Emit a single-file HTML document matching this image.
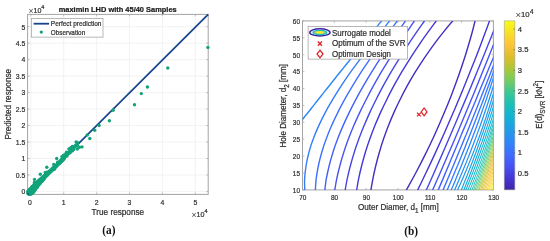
<!DOCTYPE html>
<html lang="en"><head><meta charset="utf-8"><title>Figure</title>
<style>html,body{margin:0;padding:0;background:#fff}body{width:550px;height:241px;overflow:hidden}svg{display:block}</style>
</head><body>
<svg width="550" height="241" viewBox="0 0 550 241" font-family="'Liberation Sans', Arial, sans-serif" fill="#262626">
<rect width="550" height="241" fill="#fff"/>
<g id="left">
<path d="M30.80 14.4V194.4M63.70 14.4V194.4M96.60 14.4V194.4M129.50 14.4V194.4M162.40 14.4V194.4M195.30 14.4V194.4M27.6 191.45H208.2M27.6 174.97H208.2M27.6 158.50H208.2M27.6 142.02H208.2M27.6 125.55H208.2M27.6 109.07H208.2M27.6 92.60H208.2M27.6 76.12H208.2M27.6 59.65H208.2M27.6 43.17H208.2M27.6 26.70H208.2" stroke="#eeeeee" stroke-width="0.7" fill="none"/>
<rect x="27.6" y="14.4" width="180.60" height="180.00" fill="none" stroke="#a4a4a4" stroke-width="1"/>
<path d="M30.80 194.4v-1.9M30.80 14.4v1.9M63.70 194.4v-1.9M63.70 14.4v1.9M96.60 194.4v-1.9M96.60 14.4v1.9M129.50 194.4v-1.9M129.50 14.4v1.9M162.40 194.4v-1.9M162.40 14.4v1.9M195.30 194.4v-1.9M195.30 14.4v1.9M27.6 191.45h1.9M208.2 191.45h-1.9M27.6 174.97h1.9M208.2 174.97h-1.9M27.6 158.50h1.9M208.2 158.50h-1.9M27.6 142.02h1.9M208.2 142.02h-1.9M27.6 125.55h1.9M208.2 125.55h-1.9M27.6 109.07h1.9M208.2 109.07h-1.9M27.6 92.60h1.9M208.2 92.60h-1.9M27.6 76.12h1.9M208.2 76.12h-1.9M27.6 59.65h1.9M208.2 59.65h-1.9M27.6 43.17h1.9M208.2 43.17h-1.9M27.6 26.70h1.9M208.2 26.70h-1.9" stroke="#a4a4a4" stroke-width="0.7" fill="none"/>
<path d="M27.6 194.4L208.2 14.4" stroke="#17448c" stroke-width="1.7" fill="none"/>
<g fill="#12a37a">
<circle cx="109.4" cy="120.7" r="1.7"/>
<circle cx="99.1" cy="125.5" r="1.7"/>
<circle cx="94.7" cy="130.3" r="1.7"/>
<circle cx="89.8" cy="138.5" r="1.7"/>
<circle cx="87.2" cy="135.0" r="1.7"/>
<circle cx="77.3" cy="142.4" r="1.7"/>
<circle cx="82.0" cy="146.9" r="1.7"/>
<circle cx="79.4" cy="147.2" r="1.7"/>
<circle cx="77.3" cy="149.0" r="1.7"/>
<circle cx="73.3" cy="147.2" r="1.7"/>
<circle cx="70.7" cy="147.8" r="1.7"/>
<circle cx="68.9" cy="149.0" r="1.7"/>
<circle cx="72.4" cy="150.7" r="1.7"/>
<circle cx="68.1" cy="152.5" r="1.7"/>
<circle cx="65.8" cy="153.7" r="1.7"/>
<circle cx="63.7" cy="155.4" r="1.7"/>
<circle cx="62.0" cy="156.5" r="1.7"/>
<circle cx="147.4" cy="87.0" r="1.7"/>
<circle cx="141.3" cy="93.6" r="1.7"/>
<circle cx="207.9" cy="47.4" r="1.7"/>
<circle cx="167.8" cy="68.0" r="1.7"/>
<circle cx="134.5" cy="104.7" r="1.7"/>
<circle cx="113.1" cy="110.3" r="1.7"/>
<circle cx="34.5" cy="179.4" r="1.7"/>
<circle cx="40.3" cy="174.2" r="1.7"/>
<circle cx="46.8" cy="167.2" r="1.7"/>
<circle cx="56.7" cy="158.5" r="1.7"/>
<circle cx="29.9" cy="194.0" r="1.7"/>
<circle cx="28.0" cy="192.5" r="1.7"/>
<circle cx="29.0" cy="194.0" r="1.7"/>
<circle cx="28.8" cy="194.0" r="1.7"/>
<circle cx="28.0" cy="193.6" r="1.7"/>
<circle cx="30.6" cy="194.0" r="1.7"/>
<circle cx="28.0" cy="191.4" r="1.7"/>
<circle cx="28.2" cy="191.7" r="1.7"/>
<circle cx="29.8" cy="193.8" r="1.7"/>
<circle cx="28.7" cy="192.4" r="1.7"/>
<circle cx="31.3" cy="194.0" r="1.7"/>
<circle cx="28.4" cy="190.4" r="1.7"/>
<circle cx="29.0" cy="191.4" r="1.7"/>
<circle cx="30.7" cy="192.8" r="1.7"/>
<circle cx="29.6" cy="191.6" r="1.7"/>
<circle cx="32.7" cy="192.9" r="1.7"/>
<circle cx="29.3" cy="189.7" r="1.7"/>
<circle cx="30.9" cy="192.1" r="1.7"/>
<circle cx="31.1" cy="192.4" r="1.7"/>
<circle cx="30.0" cy="191.1" r="1.7"/>
<circle cx="33.1" cy="192.4" r="1.7"/>
<circle cx="29.7" cy="189.1" r="1.7"/>
<circle cx="31.1" cy="190.2" r="1.7"/>
<circle cx="32.2" cy="191.3" r="1.7"/>
<circle cx="31.2" cy="189.9" r="1.7"/>
<circle cx="33.7" cy="191.7" r="1.7"/>
<circle cx="30.9" cy="188.1" r="1.7"/>
<circle cx="31.4" cy="188.4" r="1.7"/>
<circle cx="33.1" cy="190.3" r="1.7"/>
<circle cx="31.8" cy="189.3" r="1.7"/>
<circle cx="34.3" cy="190.9" r="1.7"/>
<circle cx="31.6" cy="187.2" r="1.7"/>
<circle cx="32.2" cy="187.6" r="1.7"/>
<circle cx="33.4" cy="189.9" r="1.7"/>
<circle cx="32.7" cy="188.3" r="1.7"/>
<circle cx="35.0" cy="190.0" r="1.7"/>
<circle cx="32.3" cy="186.5" r="1.7"/>
<circle cx="34.2" cy="189.1" r="1.7"/>
<circle cx="34.4" cy="188.6" r="1.7"/>
<circle cx="33.2" cy="187.8" r="1.7"/>
<circle cx="35.7" cy="189.0" r="1.7"/>
<circle cx="33.2" cy="185.9" r="1.7"/>
<circle cx="34.2" cy="187.6" r="1.7"/>
<circle cx="34.8" cy="188.0" r="1.7"/>
<circle cx="34.0" cy="186.9" r="1.7"/>
<circle cx="36.9" cy="187.5" r="1.7"/>
<circle cx="34.0" cy="184.8" r="1.7"/>
<circle cx="36.5" cy="187.8" r="1.7"/>
<circle cx="35.7" cy="187.0" r="1.7"/>
<circle cx="34.8" cy="186.0" r="1.7"/>
<circle cx="37.3" cy="186.9" r="1.7"/>
<circle cx="34.6" cy="184.3" r="1.7"/>
<circle cx="35.9" cy="185.3" r="1.7"/>
<circle cx="36.3" cy="186.2" r="1.7"/>
<circle cx="35.4" cy="185.2" r="1.7"/>
<circle cx="37.6" cy="186.2" r="1.7"/>
<circle cx="35.5" cy="183.4" r="1.7"/>
<circle cx="36.6" cy="184.5" r="1.7"/>
<circle cx="36.9" cy="185.4" r="1.7"/>
<circle cx="36.4" cy="184.2" r="1.7"/>
<circle cx="34.4" cy="182.4" r="1.7"/>
<circle cx="38.4" cy="185.3" r="1.7"/>
<circle cx="36.4" cy="182.6" r="1.7"/>
<circle cx="37.2" cy="183.1" r="1.7"/>
<circle cx="37.8" cy="184.5" r="1.7"/>
<circle cx="37.0" cy="183.5" r="1.7"/>
<circle cx="39.5" cy="184.1" r="1.7"/>
<circle cx="37.0" cy="182.0" r="1.7"/>
<circle cx="38.5" cy="183.5" r="1.7"/>
<circle cx="38.8" cy="183.3" r="1.7"/>
<circle cx="37.6" cy="183.0" r="1.7"/>
<circle cx="40.0" cy="183.5" r="1.7"/>
<circle cx="37.8" cy="181.4" r="1.7"/>
<circle cx="39.5" cy="182.7" r="1.7"/>
<circle cx="39.6" cy="182.5" r="1.7"/>
<circle cx="38.5" cy="182.1" r="1.7"/>
<circle cx="40.7" cy="182.7" r="1.7"/>
<circle cx="38.7" cy="180.5" r="1.7"/>
<circle cx="39.2" cy="180.7" r="1.7"/>
<circle cx="40.5" cy="181.6" r="1.7"/>
<circle cx="39.5" cy="181.2" r="1.7"/>
<circle cx="41.9" cy="181.5" r="1.7"/>
<circle cx="39.5" cy="179.8" r="1.7"/>
<circle cx="40.5" cy="180.7" r="1.7"/>
<circle cx="41.2" cy="180.8" r="1.7"/>
<circle cx="40.4" cy="180.3" r="1.7"/>
<circle cx="42.2" cy="180.9" r="1.7"/>
<circle cx="40.5" cy="179.0" r="1.7"/>
<circle cx="42.1" cy="180.6" r="1.7"/>
<circle cx="41.7" cy="180.2" r="1.7"/>
<circle cx="41.1" cy="179.6" r="1.7"/>
<circle cx="43.3" cy="179.5" r="1.7"/>
<circle cx="41.3" cy="178.2" r="1.7"/>
<circle cx="43.4" cy="179.7" r="1.7"/>
<circle cx="43.8" cy="179.0" r="1.7"/>
<circle cx="42.1" cy="177.6" r="1.7"/>
<circle cx="42.5" cy="177.9" r="1.7"/>
<circle cx="44.3" cy="178.5" r="1.7"/>
<circle cx="43.3" cy="176.4" r="1.7"/>
<circle cx="43.8" cy="177.2" r="1.7"/>
<circle cx="45.4" cy="177.1" r="1.7"/>
<circle cx="43.9" cy="176.2" r="1.7"/>
<circle cx="44.0" cy="176.2" r="1.7"/>
<circle cx="45.9" cy="176.5" r="1.7"/>
<circle cx="44.7" cy="175.4" r="1.7"/>
<circle cx="45.8" cy="175.7" r="1.7"/>
<circle cx="47.0" cy="175.4" r="1.7"/>
<circle cx="45.6" cy="174.7" r="1.7"/>
<circle cx="46.6" cy="175.1" r="1.7"/>
<circle cx="47.2" cy="175.0" r="1.7"/>
<circle cx="46.5" cy="173.9" r="1.7"/>
<circle cx="46.6" cy="174.0" r="1.7"/>
<circle cx="45.3" cy="172.5" r="1.7"/>
<circle cx="48.1" cy="174.2" r="1.7"/>
<circle cx="47.1" cy="173.3" r="1.7"/>
<circle cx="47.9" cy="172.9" r="1.7"/>
<circle cx="46.9" cy="172.1" r="1.7"/>
<circle cx="49.3" cy="173.1" r="1.7"/>
<circle cx="48.3" cy="172.2" r="1.7"/>
<circle cx="48.8" cy="173.0" r="1.7"/>
<circle cx="50.0" cy="172.5" r="1.7"/>
<circle cx="48.8" cy="171.7" r="1.7"/>
<circle cx="49.7" cy="172.5" r="1.7"/>
<circle cx="50.9" cy="171.6" r="1.7"/>
<circle cx="49.9" cy="170.8" r="1.7"/>
<circle cx="50.0" cy="171.0" r="1.7"/>
<circle cx="51.5" cy="171.0" r="1.7"/>
<circle cx="50.8" cy="170.0" r="1.7"/>
<circle cx="51.4" cy="170.4" r="1.7"/>
<circle cx="52.4" cy="170.2" r="1.7"/>
<circle cx="51.8" cy="168.9" r="1.7"/>
<circle cx="52.3" cy="169.5" r="1.7"/>
<circle cx="53.5" cy="169.1" r="1.7"/>
<circle cx="52.6" cy="168.3" r="1.7"/>
<circle cx="53.3" cy="169.1" r="1.7"/>
<circle cx="54.2" cy="168.3" r="1.7"/>
<circle cx="53.0" cy="168.0" r="1.7"/>
<circle cx="53.8" cy="168.7" r="1.7"/>
<circle cx="54.4" cy="169.3" r="1.7"/>
<circle cx="55.1" cy="167.4" r="1.7"/>
<circle cx="54.2" cy="166.8" r="1.7"/>
<circle cx="55.1" cy="167.5" r="1.7"/>
<circle cx="55.8" cy="166.7" r="1.7"/>
<circle cx="54.7" cy="166.4" r="1.7"/>
<circle cx="55.2" cy="166.1" r="1.7"/>
<circle cx="53.8" cy="164.5" r="1.7"/>
<circle cx="56.4" cy="166.4" r="1.7"/>
<circle cx="55.6" cy="165.5" r="1.7"/>
<circle cx="56.2" cy="165.6" r="1.7"/>
<circle cx="57.3" cy="165.4" r="1.7"/>
<circle cx="56.4" cy="164.9" r="1.7"/>
<circle cx="57.1" cy="165.1" r="1.7"/>
<circle cx="58.3" cy="164.4" r="1.7"/>
<circle cx="57.5" cy="163.7" r="1.7"/>
<circle cx="57.6" cy="164.0" r="1.7"/>
<circle cx="59.2" cy="163.5" r="1.7"/>
<circle cx="58.2" cy="163.0" r="1.7"/>
<circle cx="58.2" cy="163.1" r="1.7"/>
<circle cx="57.6" cy="162.1" r="1.7"/>
<circle cx="59.7" cy="163.2" r="1.7"/>
<circle cx="59.1" cy="162.0" r="1.7"/>
<circle cx="60.0" cy="162.6" r="1.7"/>
<circle cx="60.5" cy="162.4" r="1.7"/>
<circle cx="59.6" cy="161.6" r="1.7"/>
<circle cx="60.0" cy="162.2" r="1.7"/>
<circle cx="61.6" cy="161.3" r="1.7"/>
<circle cx="60.3" cy="160.7" r="1.7"/>
<circle cx="61.6" cy="161.1" r="1.7"/>
<circle cx="62.3" cy="160.7" r="1.7"/>
<circle cx="61.3" cy="159.7" r="1.7"/>
<circle cx="62.0" cy="160.1" r="1.7"/>
<circle cx="62.9" cy="160.0" r="1.7"/>
<circle cx="61.9" cy="159.0" r="1.7"/>
<circle cx="62.5" cy="159.0" r="1.7"/>
<circle cx="63.8" cy="159.3" r="1.7"/>
<circle cx="62.7" cy="158.3" r="1.7"/>
<circle cx="63.1" cy="158.0" r="1.7"/>
<circle cx="63.5" cy="157.6" r="1.7"/>
<circle cx="64.2" cy="158.3" r="1.7"/>
<circle cx="65.1" cy="156.7" r="1.7"/>
<circle cx="64.8" cy="156.8" r="1.7"/>
<circle cx="63.7" cy="155.2" r="1.7"/>
<circle cx="66.9" cy="156.1" r="1.7"/>
<circle cx="66.7" cy="155.8" r="1.7"/>
<circle cx="66.9" cy="154.4" r="1.7"/>
<circle cx="67.1" cy="154.3" r="1.7"/>
<circle cx="68.1" cy="153.4" r="1.7"/>
<circle cx="68.3" cy="153.6" r="1.7"/>
<circle cx="66.5" cy="152.1" r="1.7"/>
<circle cx="69.9" cy="152.9" r="1.7"/>
<circle cx="68.5" cy="152.5" r="1.7"/>
<circle cx="69.9" cy="151.9" r="1.7"/>
<circle cx="69.8" cy="151.9" r="1.7"/>
<circle cx="71.1" cy="150.3" r="1.7"/>
<circle cx="71.1" cy="151.3" r="1.7"/>
<circle cx="72.5" cy="149.8" r="1.7"/>
<circle cx="72.3" cy="150.1" r="1.7"/>
<circle cx="73.5" cy="149.5" r="1.7"/>
<circle cx="73.5" cy="149.5" r="1.7"/>
<circle cx="73.9" cy="147.5" r="1.7"/>
<circle cx="74.1" cy="147.6" r="1.7"/>
<circle cx="72.4" cy="146.4" r="1.7"/>
<circle cx="74.8" cy="146.4" r="1.7"/>
<circle cx="74.8" cy="146.3" r="1.7"/>
<circle cx="76.6" cy="145.9" r="1.7"/>
<circle cx="75.4" cy="145.6" r="1.7"/>
<circle cx="76.9" cy="145.0" r="1.7"/>
<circle cx="77.3" cy="144.8" r="1.7"/>
<circle cx="77.3" cy="143.5" r="1.7"/>
<circle cx="77.6" cy="143.4" r="1.7"/>
<circle cx="76.1" cy="142.0" r="1.7"/>
</g>
<path d="M27.6 194.4l1.0 -1.0" stroke="#17448c" stroke-width="1.7"/>
<rect x="31.3" y="18.4" width="71.7" height="18.7" fill="#fff" stroke="#9a9a9a" stroke-width="0.7"/>
<path d="M33.6 23.7H49.1" stroke="#17448c" stroke-width="1.8"/>
<circle cx="41.3" cy="32.1" r="1.65" fill="#12a37a"/>
<g fill="#2e2e2e">
<text transform="translate(50.80 26.10) scale(0.9031 1)" font-size="7.2" stroke="#2e2e2e" stroke-width="0.22">Perfect prediction</text>
<text transform="translate(50.80 34.50) scale(0.8861 1)" font-size="7.2" stroke="#2e2e2e" stroke-width="0.22">Observation</text>
</g>
<g font-size="7.4" fill="#2e2e2e" text-anchor="middle">
<text transform="translate(30.00 204.80) scale(0.8700 1)" font-size="7.9" text-anchor="middle" stroke="#2e2e2e" stroke-width="0.22">0</text>
<text transform="translate(63.70 204.80) scale(0.8700 1)" font-size="7.9" text-anchor="middle" stroke="#2e2e2e" stroke-width="0.22">1</text>
<text transform="translate(96.60 204.80) scale(0.8700 1)" font-size="7.9" text-anchor="middle" stroke="#2e2e2e" stroke-width="0.22">2</text>
<text transform="translate(129.50 204.80) scale(0.8700 1)" font-size="7.9" text-anchor="middle" stroke="#2e2e2e" stroke-width="0.22">3</text>
<text transform="translate(162.40 204.80) scale(0.8700 1)" font-size="7.9" text-anchor="middle" stroke="#2e2e2e" stroke-width="0.22">4</text>
<text transform="translate(195.30 204.80) scale(0.8700 1)" font-size="7.9" text-anchor="middle" stroke="#2e2e2e" stroke-width="0.22">5</text>
</g>
<g font-size="7.4" fill="#2e2e2e" text-anchor="end">
<text transform="translate(25.30 194.25) scale(0.8700 1)" font-size="7.9" text-anchor="end" stroke="#2e2e2e" stroke-width="0.22">0</text>
<text transform="translate(25.30 177.78) scale(0.8700 1)" font-size="7.9" text-anchor="end" stroke="#2e2e2e" stroke-width="0.22">0.5</text>
<text transform="translate(25.30 161.30) scale(0.8700 1)" font-size="7.9" text-anchor="end" stroke="#2e2e2e" stroke-width="0.22">1</text>
<text transform="translate(25.30 144.82) scale(0.8700 1)" font-size="7.9" text-anchor="end" stroke="#2e2e2e" stroke-width="0.22">1.5</text>
<text transform="translate(25.30 128.35) scale(0.8700 1)" font-size="7.9" text-anchor="end" stroke="#2e2e2e" stroke-width="0.22">2</text>
<text transform="translate(25.30 111.87) scale(0.8700 1)" font-size="7.9" text-anchor="end" stroke="#2e2e2e" stroke-width="0.22">2.5</text>
<text transform="translate(25.30 95.40) scale(0.8700 1)" font-size="7.9" text-anchor="end" stroke="#2e2e2e" stroke-width="0.22">3</text>
<text transform="translate(25.30 78.92) scale(0.8700 1)" font-size="7.9" text-anchor="end" stroke="#2e2e2e" stroke-width="0.22">3.5</text>
<text transform="translate(25.30 62.45) scale(0.8700 1)" font-size="7.9" text-anchor="end" stroke="#2e2e2e" stroke-width="0.22">4</text>
<text transform="translate(25.30 45.97) scale(0.8700 1)" font-size="7.9" text-anchor="end" stroke="#2e2e2e" stroke-width="0.22">4.5</text>
<text transform="translate(25.30 29.50) scale(0.8700 1)" font-size="7.9" text-anchor="end" stroke="#2e2e2e" stroke-width="0.22">5</text>
</g>
<text transform="translate(28.40 12.50) scale(0.9000 1)" font-size="7.9" fill="#2e2e2e" stroke="#2e2e2e" stroke-width="0.22"><tspan font-size="9.6" dy="1.4" stroke="none" fill="#4a4a4a">×</tspan><tspan dy="-1.4">10</tspan><tspan font-size="6.2" dy="-3.4">4</tspan></text>
<text transform="translate(191.50 216.60) scale(0.9000 1)" font-size="7.9" fill="#2e2e2e" stroke="#2e2e2e" stroke-width="0.22"><tspan font-size="9.6" dy="1.4" stroke="none" fill="#4a4a4a">×</tspan><tspan dy="-1.4">10</tspan><tspan font-size="6.2" dy="-3.4">4</tspan></text>
<text transform="translate(117.70 12.10) scale(0.9446 1)" font-size="7.9" text-anchor="middle" font-weight="bold" fill="#1a1a1a" stroke="#1a1a1a" stroke-width="0.22">maximin LHD with 45/40 Samples</text>
<text transform="translate(117.85 215.20) scale(0.9116 1)" font-size="9.0" text-anchor="middle" fill="#2e2e2e" stroke="#2e2e2e" stroke-width="0.22">True response</text>
<text transform="translate(10.90 104.20) rotate(-90) scale(0.9104 1)" font-size="9.0" text-anchor="middle" fill="#2e2e2e" stroke="#2e2e2e" stroke-width="0.22">Predicted response</text>
<text transform="translate(108.9 234.4) scale(0.87 1)" font-family="'Liberation Serif', 'Times New Roman', serif" font-weight="bold" font-size="13" text-anchor="middle" fill="#111">(a)</text>
</g>
<g id="right">
<clipPath id="cp"><rect x="302.5" y="20.9" width="190.90" height="169.00"/></clipPath>
<rect x="302.5" y="20.9" width="190.90" height="169.00" fill="none" stroke="#a4a4a4" stroke-width="1"/>
<path d="M302.50 189.9v-1.9M302.50 20.9v1.9M334.32 189.9v-1.9M334.32 20.9v1.9M366.13 189.9v-1.9M366.13 20.9v1.9M397.95 189.9v-1.9M397.95 20.9v1.9M429.77 189.9v-1.9M429.77 20.9v1.9M461.58 189.9v-1.9M461.58 20.9v1.9M493.40 189.9v-1.9M493.40 20.9v1.9M302.5 189.90h1.9M493.4 189.90h-1.9M302.5 173.00h1.9M493.4 173.00h-1.9M302.5 156.10h1.9M493.4 156.10h-1.9M302.5 139.20h1.9M493.4 139.20h-1.9M302.5 122.30h1.9M493.4 122.30h-1.9M302.5 105.40h1.9M493.4 105.40h-1.9M302.5 88.50h1.9M493.4 88.50h-1.9M302.5 71.60h1.9M493.4 71.60h-1.9M302.5 54.70h1.9M493.4 54.70h-1.9M302.5 37.80h1.9M493.4 37.80h-1.9M302.5 20.90h1.9M493.4 20.90h-1.9" stroke="#a4a4a4" stroke-width="0.7" fill="none"/>
<g clip-path="url(#cp)" fill="none" stroke-width="1.4">
<path d="M384.0 17.9C381.8 20.6 379.6 23.3 377.3 26.1C375.1 28.8 372.9 31.5 370.7 34.2C368.5 36.9 366.3 39.7 364.0 42.4C361.8 45.1 359.6 47.8 357.4 50.5C355.2 53.3 353.0 56.0 350.8 58.7C348.7 61.4 346.5 64.1 344.3 66.9C342.1 69.6 339.9 72.3 337.7 75.0C335.6 77.8 333.4 80.5 331.2 83.2C329.1 85.9 326.9 88.6 324.7 91.4C322.6 94.1 320.4 96.8 318.3 99.5C316.1 102.2 314.0 105.0 311.8 107.7C309.7 110.4 307.5 113.1 305.4 115.8C303.3 118.6 301.1 121.3 299.0 124.0" stroke="#2d88f6"/>
<path d="M391.9 17.9C388.4 22.4 384.8 26.9 381.3 31.4C377.8 35.8 374.3 40.3 370.9 44.8C367.4 49.3 364.0 53.8 360.7 58.3C357.4 62.8 354.1 67.3 350.9 71.7C347.7 76.2 344.6 80.7 341.7 85.2C338.7 89.7 335.9 94.2 333.2 98.7C330.5 103.2 327.9 107.6 325.5 112.1C323.1 116.6 320.8 121.1 318.8 125.6C316.7 130.1 314.8 134.6 313.2 139.1C311.5 143.5 310.1 148.0 308.9 152.5C307.7 157.0 306.7 161.5 306.0 166.0C305.3 170.5 304.8 175.0 304.6 179.4C304.4 183.9 304.8 188.4 304.9 192.9" stroke="#357cfb"/>
<path d="M399.5 17.9C396.2 22.4 392.8 26.9 389.5 31.4C386.3 35.8 383.0 40.3 379.8 44.8C376.6 49.3 373.5 53.8 370.4 58.3C367.4 62.8 364.4 67.3 361.4 71.7C358.5 76.2 355.7 80.7 353.0 85.2C350.3 89.7 347.6 94.2 345.1 98.7C342.6 103.2 340.2 107.6 338.0 112.1C335.7 116.6 333.6 121.1 331.6 125.6C329.7 130.1 327.8 134.6 326.2 139.1C324.5 143.5 323.0 148.0 321.7 152.5C320.4 157.0 319.3 161.5 318.3 166.0C317.4 170.5 316.6 175.0 316.1 179.4C315.6 183.9 315.5 188.4 315.2 192.9" stroke="#3e70ff"/>
<path d="M407.5 17.9C404.4 22.4 401.3 26.9 398.2 31.4C395.2 35.8 392.1 40.3 389.1 44.8C386.2 49.3 383.2 53.8 380.3 58.3C377.4 62.8 374.6 67.3 371.9 71.7C369.1 76.2 366.4 80.7 363.8 85.2C361.2 89.7 358.7 94.2 356.3 98.7C353.9 103.2 351.6 107.6 349.4 112.1C347.2 116.6 345.1 121.1 343.1 125.6C341.1 130.1 339.3 134.6 337.6 139.1C335.9 143.5 334.3 148.0 332.9 152.5C331.5 157.0 330.2 161.5 329.1 166.0C328.0 170.5 327.0 175.0 326.2 179.4C325.5 183.9 325.1 188.4 324.5 192.9" stroke="#4361fa"/>
<path d="M416.5 17.9C413.4 22.4 410.3 26.9 407.3 31.4C404.2 35.8 401.2 40.3 398.3 44.8C395.4 49.3 392.5 53.8 389.7 58.3C386.9 62.8 384.2 67.3 381.5 71.7C378.9 76.2 376.3 80.7 373.8 85.2C371.3 89.7 368.9 94.2 366.6 98.7C364.2 103.2 362.0 107.6 359.9 112.1C357.8 116.6 355.7 121.1 353.8 125.6C351.9 130.1 350.1 134.6 348.4 139.1C346.7 143.5 345.2 148.0 343.7 152.5C342.3 157.0 341.0 161.5 339.8 166.0C338.6 170.5 337.5 175.0 336.6 179.4C335.7 183.9 335.1 188.4 334.3 192.9" stroke="#4853f4"/>
<path d="M426.6 17.9C423.5 22.4 420.2 26.9 417.1 31.4C414.0 35.8 411.0 40.3 408.0 44.8C405.1 49.3 402.2 53.8 399.4 58.3C396.6 62.8 393.9 67.3 391.3 71.7C388.6 76.2 386.1 80.7 383.6 85.2C381.2 89.7 378.8 94.2 376.5 98.7C374.3 103.2 372.1 107.6 370.0 112.1C367.9 116.6 366.0 121.1 364.1 125.6C362.2 130.1 360.5 134.6 358.8 139.1C357.2 143.5 355.6 148.0 354.2 152.5C352.8 157.0 351.5 161.5 350.3 166.0C349.1 170.5 348.1 175.0 347.1 179.4C346.2 183.9 345.5 188.4 344.7 192.9" stroke="#4645e5"/>
<path d="M438.5 17.9C435.2 22.4 431.8 26.9 428.5 31.4C425.3 35.8 422.1 40.3 419.1 44.8C416.0 49.3 413.1 53.8 410.2 58.3C407.3 62.8 404.6 67.3 401.9 71.7C399.3 76.2 396.7 80.7 394.2 85.2C391.8 89.7 389.4 94.2 387.2 98.7C384.9 103.2 382.8 107.6 380.7 112.1C378.7 116.6 376.7 121.1 374.9 125.6C373.1 130.1 371.4 134.6 369.8 139.1C368.2 143.5 366.7 148.0 365.3 152.5C364.0 157.0 362.7 161.5 361.6 166.0C360.4 170.5 359.4 175.0 358.5 179.4C357.6 183.9 357.0 188.4 356.2 192.9" stroke="#4537d6"/>
<path d="M455.2 17.9C451.4 22.4 447.6 26.9 444.0 31.4C440.4 35.8 436.9 40.3 433.6 44.8C430.3 49.3 427.2 53.8 424.1 58.3C421.1 62.8 418.2 67.3 415.5 71.7C412.7 76.2 410.1 80.7 407.6 85.2C405.1 89.7 402.7 94.2 400.5 98.7C398.2 103.2 396.1 107.6 394.1 112.1C392.1 116.6 390.2 121.1 388.5 125.6C386.7 130.1 385.1 134.6 383.5 139.1C382.0 143.5 380.6 148.0 379.3 152.5C378.0 157.0 376.8 161.5 375.7 166.0C374.6 170.5 373.6 175.0 372.8 179.4C371.9 183.9 371.2 188.4 370.4 192.9" stroke="#412fbf"/>
<path d="M404.2 193.9C407.9 187.3 411.6 180.6 415.2 174.0C418.7 167.4 422.1 160.8 425.4 154.1C428.7 147.5 431.8 140.9 434.9 134.2C437.9 127.6 440.8 121.0 443.6 114.3C446.4 107.7 449.1 101.1 451.7 94.5C454.2 87.8 456.7 81.2 459.0 74.6C461.3 67.9 463.5 61.3 465.6 54.7C467.7 48.0 469.6 41.4 471.5 34.8C473.3 28.2 474.9 21.5 476.6 14.9" stroke="#412fbf" stroke-width="1.40"/>
<path d="M415.8 193.9C419.0 187.3 422.3 180.6 425.4 174.0C428.6 167.4 431.7 160.8 434.8 154.1C437.8 147.5 440.8 140.9 443.8 134.2C446.7 127.6 449.6 121.0 452.5 114.3C455.3 107.7 458.2 101.1 460.9 94.5C463.7 87.8 466.4 81.2 469.0 74.6C471.7 67.9 474.3 61.3 476.9 54.7C479.5 48.0 482.0 41.4 484.4 34.8C486.9 28.2 489.3 21.5 491.7 14.9" stroke="#4537d6" stroke-width="1.40"/>
<path d="M424.6 193.9C427.6 187.3 430.5 180.6 433.5 174.0C436.4 167.4 439.3 160.8 442.2 154.1C445.1 147.5 448.0 140.9 450.8 134.2C453.7 127.6 456.5 121.0 459.3 114.3C462.1 107.7 464.9 101.1 467.7 94.5C470.5 87.8 473.2 81.2 476.0 74.6C478.7 67.9 481.4 61.3 484.1 54.7C486.8 48.0 489.5 41.4 492.1 34.8C494.8 28.2 497.4 21.5 500.0 14.9" stroke="#4645e5" stroke-width="1.40"/>
<path d="M430.9 193.9C433.8 187.3 436.8 180.6 439.7 174.0C442.6 167.4 445.5 160.8 448.3 154.1C451.2 147.5 454.0 140.9 456.8 134.2C459.6 127.6 462.4 121.0 465.2 114.3C468.0 107.7 470.7 101.1 473.4 94.5C476.2 87.8 478.9 81.2 481.5 74.6C484.2 67.9 486.9 61.3 489.5 54.7C492.2 48.0 494.8 41.4 497.4 34.8C500.0 28.2 502.6 21.5 505.1 14.9" stroke="#4853f4" stroke-width="1.40"/>
<path d="M436.6 193.9C438.8 188.6 441.0 183.4 443.3 178.1C445.5 172.8 447.7 167.5 449.9 162.3C452.1 157.0 454.3 151.7 456.5 146.4C458.7 141.2 460.9 135.9 463.1 130.6C465.3 125.3 467.5 120.1 469.7 114.8C471.9 109.5 474.1 104.2 476.3 99.0C478.4 93.7 480.6 88.4 482.8 83.1C485.0 77.9 487.2 72.6 489.3 67.3C491.5 62.0 493.7 56.8 495.9 51.5" stroke="#4361fa" stroke-width="1.40"/>
<path d="M441.4 193.9C443.5 188.9 445.6 183.9 447.7 179.0C449.8 174.0 451.9 169.0 454.0 164.0C456.1 159.1 458.1 154.1 460.2 149.1C462.2 144.1 464.2 139.1 466.3 134.2C468.3 129.2 470.3 124.2 472.3 119.2C474.3 114.3 476.3 109.3 478.3 104.3C480.2 99.3 482.2 94.3 484.1 89.4C486.1 84.4 488.0 79.4 490.0 74.4C491.9 69.5 493.8 64.5 495.7 59.5" stroke="#3e70ff" stroke-width="1.40"/>
<path d="M445.6 193.9C447.6 189.2 449.6 184.4 451.6 179.7C453.6 175.0 455.6 170.2 457.6 165.5C459.5 160.7 461.5 156.0 463.4 151.3C465.3 146.5 467.2 141.8 469.0 137.1C470.9 132.3 472.8 127.6 474.6 122.8C476.4 118.1 478.2 113.4 480.0 108.6C481.8 103.9 483.6 99.2 485.3 94.4C487.0 89.7 488.8 84.9 490.5 80.2C492.2 75.5 493.8 70.7 495.5 66.0" stroke="#357cfb" stroke-width="1.35"/>
<path d="M449.5 193.9C451.4 189.4 453.4 184.9 455.3 180.4C457.2 175.8 459.0 171.3 460.9 166.8C462.7 162.3 464.5 157.8 466.3 153.3C468.1 148.8 469.9 144.2 471.6 139.7C473.3 135.2 475.0 130.7 476.7 126.2C478.4 121.7 480.0 117.1 481.6 112.6C483.2 108.1 484.8 103.6 486.4 99.1C487.9 94.6 489.4 90.1 490.9 85.5C492.4 81.0 493.9 76.5 495.3 72.0" stroke="#2d88f6" stroke-width="1.31"/>
<path d="M452.9 193.9C454.8 189.7 456.6 185.5 458.4 181.2C460.2 177.0 462.0 172.8 463.7 168.6C465.5 164.4 467.2 160.2 468.8 155.9C470.5 151.7 472.2 147.5 473.7 143.3C475.3 139.1 476.9 134.8 478.4 130.6C480.0 126.4 481.5 122.2 482.9 118.0C484.4 113.7 485.8 109.5 487.2 105.3C488.6 101.1 490.0 96.9 491.3 92.7C492.7 88.4 493.9 84.2 495.2 80.0" stroke="#2891f0" stroke-width="1.26"/>
<path d="M455.9 193.9C457.6 190.0 459.4 186.0 461.2 182.1C462.9 178.1 464.6 174.2 466.2 170.3C467.9 166.3 469.5 162.4 471.0 158.4C472.6 154.5 474.1 150.6 475.6 146.6C477.1 142.7 478.6 138.7 480.0 134.8C481.4 130.8 482.8 126.9 484.1 123.0C485.5 119.0 486.8 115.1 488.0 111.1C489.3 107.2 490.5 103.3 491.7 99.3C492.9 95.4 494.0 91.4 495.1 87.5" stroke="#2299e9" stroke-width="1.22"/>
<path d="M459.8 193.9C461.3 190.2 462.8 186.5 464.2 182.8C465.7 179.2 467.2 175.5 468.6 171.8C470.0 168.1 471.4 164.4 472.8 160.7C474.2 157.0 475.6 153.4 476.9 149.7C478.2 146.0 479.5 142.3 480.8 138.6C482.1 134.9 483.4 131.3 484.6 127.6C485.9 123.9 487.1 120.2 488.3 116.5C489.5 112.8 490.7 109.1 491.8 105.5C493.0 101.8 494.1 98.1 495.2 94.4" stroke="#1ca2e3" stroke-width="1.17"/>
<path d="M462.3 193.9C463.7 190.4 465.1 187.0 466.4 183.5C467.8 180.1 469.2 176.6 470.5 173.2C471.8 169.7 473.1 166.3 474.4 162.8C475.7 159.4 477.0 155.9 478.2 152.5C479.4 149.0 480.7 145.6 481.9 142.1C483.1 138.7 484.2 135.2 485.4 131.8C486.5 128.3 487.7 124.9 488.8 121.4C489.9 118.0 491.0 114.5 492.1 111.1C493.1 107.6 494.2 104.2 495.2 100.7" stroke="#16aadc" stroke-width="1.13"/>
<path d="M464.3 193.9C465.6 190.7 466.9 187.5 468.2 184.2C469.5 181.0 470.7 177.8 472.0 174.6C473.2 171.4 474.5 168.2 475.7 164.9C476.9 161.7 478.1 158.5 479.2 155.3C480.4 152.1 481.5 148.8 482.7 145.6C483.8 142.4 484.9 139.2 486.0 136.0C487.1 132.7 488.1 129.5 489.2 126.3C490.2 123.1 491.3 119.9 492.3 116.7C493.3 113.4 494.2 110.2 495.2 107.0" stroke="#12b2d4" stroke-width="1.08"/>
<path d="M466.4 193.9C467.6 190.9 468.8 187.9 470.0 184.9C471.2 181.9 472.4 178.9 473.6 175.9C474.7 172.8 475.9 169.8 477.0 166.8C478.1 163.8 479.2 160.8 480.3 157.8C481.4 154.8 482.5 151.8 483.5 148.8C484.6 145.8 485.6 142.8 486.6 139.8C487.6 136.8 488.6 133.8 489.6 130.7C490.6 127.7 491.5 124.7 492.5 121.7C493.4 118.7 494.3 115.7 495.2 112.7" stroke="#14b8c8" stroke-width="1.04"/>
<path d="M468.4 193.9C469.5 191.1 470.7 188.2 471.8 185.4C472.9 182.6 474.0 179.8 475.1 176.9C476.2 174.1 477.2 171.3 478.3 168.4C479.3 165.6 480.4 162.8 481.4 159.9C482.4 157.1 483.4 154.3 484.4 151.5C485.3 148.6 486.3 145.8 487.2 143.0C488.2 140.1 489.1 137.3 490.0 134.5C490.9 131.6 491.8 128.8 492.6 126.0C493.5 123.2 494.3 120.3 495.2 117.5" stroke="#16bdbc" stroke-width="0.99"/>
<path d="M470.3 193.9C471.4 191.2 472.4 188.5 473.5 185.9C474.5 183.2 475.5 180.5 476.6 177.8C477.6 175.1 478.5 172.4 479.5 169.8C480.5 167.1 481.4 164.4 482.4 161.7C483.3 159.0 484.2 156.4 485.1 153.7C486.0 151.0 486.9 148.3 487.8 145.6C488.7 143.0 489.5 140.3 490.3 137.6C491.2 134.9 492.0 132.2 492.8 129.5C493.6 126.9 494.4 124.2 495.1 121.5" stroke="#20c1af" stroke-width="0.95"/>
<path d="M471.9 193.9C472.9 191.4 473.9 188.8 474.9 186.3C475.9 183.8 476.8 181.2 477.8 178.7C478.7 176.2 479.6 173.6 480.5 171.1C481.5 168.6 482.3 166.0 483.2 163.5C484.1 161.0 485.0 158.4 485.8 155.9C486.6 153.4 487.5 150.8 488.3 148.3C489.1 145.8 489.9 143.2 490.7 140.7C491.4 138.2 492.2 135.6 492.9 133.1C493.7 130.6 494.4 128.0 495.1 125.5" stroke="#2dc5a1" stroke-width="0.90"/>
<path d="M473.4 193.9C474.4 191.5 475.3 189.1 476.2 186.7C477.1 184.4 478.0 182.0 478.9 179.6C479.8 177.2 480.7 174.8 481.5 172.4C482.4 170.0 483.2 167.7 484.0 165.3C484.8 162.9 485.6 160.5 486.4 158.1C487.2 155.7 488.0 153.4 488.7 151.0C489.5 148.6 490.2 146.2 490.9 143.8C491.7 141.4 492.4 139.0 493.1 136.7C493.8 134.3 494.4 131.9 495.1 129.5" stroke="#48c988" stroke-width="0.90"/>
<path d="M474.7 193.9C475.6 191.7 476.5 189.4 477.4 187.2C478.2 184.9 479.1 182.7 479.9 180.4C480.7 178.2 481.5 175.9 482.3 173.7C483.1 171.5 483.9 169.2 484.7 167.0C485.4 164.7 486.2 162.5 486.9 160.2C487.7 158.0 488.4 155.7 489.1 153.5C489.8 151.3 490.5 149.0 491.2 146.8C491.9 144.5 492.5 142.3 493.2 140.0C493.8 137.8 494.5 135.5 495.1 133.3" stroke="#6bcc69" stroke-width="0.90"/>
<path d="M476.1 193.9C477.0 191.8 477.8 189.7 478.6 187.6C479.4 185.5 480.2 183.4 480.9 181.3C481.7 179.1 482.5 177.0 483.2 174.9C484.0 172.8 484.7 170.7 485.4 168.6C486.1 166.5 486.8 164.4 487.5 162.3C488.2 160.2 488.9 158.1 489.5 156.0C490.2 153.9 490.8 151.8 491.5 149.6C492.1 147.5 492.7 145.4 493.3 143.3C493.9 141.2 494.5 139.1 495.1 137.0" stroke="#8ec94f" stroke-width="0.90"/>
<path d="M477.4 193.9C478.2 191.9 479.0 190.0 479.7 188.0C480.5 186.1 481.2 184.1 481.9 182.1C482.6 180.2 483.3 178.2 484.0 176.3C484.7 174.3 485.4 172.3 486.1 170.4C486.7 168.4 487.4 166.5 488.0 164.5C488.7 162.6 489.3 160.6 489.9 158.6C490.5 156.7 491.1 154.7 491.7 152.8C492.3 150.8 492.9 148.8 493.4 146.9C494.0 144.9 494.5 143.0 495.1 141.0" stroke="#afc638" stroke-width="0.90"/>
<path d="M478.7 193.9C479.4 192.1 480.2 190.3 480.9 188.4C481.6 186.6 482.2 184.8 482.9 183.0C483.6 181.2 484.2 179.4 484.9 177.5C485.5 175.7 486.1 173.9 486.8 172.1C487.4 170.3 488.0 168.4 488.6 166.6C489.2 164.8 489.7 163.0 490.3 161.2C490.9 159.3 491.4 157.5 492.0 155.7C492.5 153.9 493.0 152.1 493.6 150.3C494.1 148.4 494.6 146.6 495.1 144.8" stroke="#c4c232" stroke-width="0.90"/>
<path d="M480.0 193.9C480.7 192.2 481.4 190.5 482.0 188.9C482.6 187.2 483.3 185.5 483.9 183.8C484.5 182.2 485.1 180.5 485.7 178.8C486.3 177.1 486.9 175.4 487.4 173.8C488.0 172.1 488.6 170.4 489.1 168.7C489.6 167.1 490.2 165.4 490.7 163.7C491.2 162.0 491.7 160.3 492.2 158.7C492.7 157.0 493.2 155.3 493.7 153.6C494.1 152.0 494.6 150.3 495.1 148.6" stroke="#d8bf2d" stroke-width="0.90"/>
<path d="M481.3 193.9C481.9 192.4 482.5 190.8 483.1 189.3C483.7 187.8 484.3 186.2 484.9 184.7C485.4 183.2 486.0 181.6 486.5 180.1C487.1 178.6 487.6 177.0 488.1 175.5C488.6 174.0 489.1 172.4 489.6 170.9C490.1 169.4 490.6 167.8 491.1 166.3C491.6 164.8 492.0 163.2 492.5 161.7C492.9 160.2 493.4 158.6 493.8 157.1C494.2 155.6 494.6 154.0 495.0 152.5" stroke="#e8c02f" stroke-width="0.90"/>
<path d="M482.6 193.9C483.2 192.5 483.7 191.1 484.3 189.7C484.8 188.3 485.3 187.0 485.8 185.6C486.3 184.2 486.8 182.8 487.3 181.4C487.8 180.0 488.3 178.6 488.8 177.2C489.2 175.8 489.7 174.5 490.2 173.1C490.6 171.7 491.0 170.3 491.5 168.9C491.9 167.5 492.3 166.1 492.7 164.7C493.1 163.3 493.5 162.0 493.9 160.6C494.3 159.2 494.7 157.8 495.0 156.4" stroke="#f5c234" stroke-width="0.90"/>
<path d="M483.9 193.9C484.4 192.7 484.9 191.4 485.4 190.2C485.9 188.9 486.3 187.7 486.8 186.4C487.3 185.2 487.7 183.9 488.2 182.7C488.6 181.5 489.0 180.2 489.5 179.0C489.9 177.7 490.3 176.5 490.7 175.2C491.1 174.0 491.5 172.7 491.9 171.5C492.2 170.3 492.6 169.0 493.0 167.8C493.3 166.5 493.7 165.3 494.0 164.0C494.4 162.8 494.7 161.5 495.0 160.3" stroke="#fdc636" stroke-width="0.90"/>
<path d="M485.2 193.9C485.7 192.8 486.1 191.7 486.5 190.6C487.0 189.5 487.4 188.4 487.8 187.3C488.2 186.2 488.6 185.1 489.0 184.0C489.4 182.9 489.8 181.8 490.1 180.7C490.5 179.6 490.9 178.5 491.2 177.4C491.6 176.3 491.9 175.2 492.2 174.1C492.6 173.0 492.9 171.9 493.2 170.8C493.5 169.7 493.9 168.6 494.2 167.5C494.4 166.4 494.7 165.3 495.0 164.2" stroke="#fbcf30" stroke-width="0.90"/>
<path d="M486.5 193.9C486.9 192.9 487.3 192.0 487.7 191.0C488.0 190.1 488.4 189.1 488.8 188.2C489.1 187.2 489.5 186.3 489.8 185.3C490.1 184.3 490.5 183.4 490.8 182.4C491.1 181.5 491.4 180.5 491.7 179.6C492.1 178.6 492.3 177.7 492.6 176.7C492.9 175.7 493.2 174.8 493.5 173.8C493.7 172.9 494.0 171.9 494.3 171.0C494.5 170.0 494.8 169.1 495.0 168.1" stroke="#f9d82b" stroke-width="0.90"/>
<path d="M488.1 193.9C488.3 193.1 488.6 192.3 488.9 191.5C489.1 190.7 489.4 189.8 489.7 189.0C490.0 188.2 490.2 187.4 490.5 186.6C490.8 185.8 491.1 185.0 491.3 184.2C491.6 183.4 491.9 182.5 492.1 181.7C492.4 180.9 492.7 180.1 493.0 179.3C493.2 178.5 493.5 177.7 493.8 176.9C494.1 176.1 494.3 175.2 494.6 174.4C494.9 173.6 495.1 172.8 495.4 172.0" stroke="#f7e125" stroke-width="0.90"/>
<path d="M489.3 193.9C489.6 193.2 489.8 192.6 490.0 191.9C490.2 191.2 490.5 190.6 490.7 189.9C490.9 189.3 491.1 188.6 491.4 187.9C491.6 187.3 491.8 186.6 492.1 185.9C492.3 185.3 492.5 184.6 492.7 184.0C493.0 183.3 493.2 182.6 493.4 182.0C493.6 181.3 493.9 180.6 494.1 180.0C494.3 179.3 494.5 178.7 494.8 178.0C495.0 177.3 495.2 176.7 495.5 176.0" stroke="#f8e920" stroke-width="0.90"/>
<path d="M490.6 193.9C490.7 193.4 490.9 192.9 491.1 192.4C491.3 191.8 491.5 191.3 491.7 190.8C491.9 190.3 492.0 189.8 492.2 189.3C492.4 188.8 492.6 188.2 492.8 187.7C493.0 187.2 493.2 186.7 493.3 186.2C493.5 185.7 493.7 185.1 493.9 184.6C494.1 184.1 494.3 183.6 494.4 183.1C494.6 182.6 494.8 182.1 495.0 181.5C495.2 181.0 495.4 180.5 495.6 180.0" stroke="#f9f21a" stroke-width="0.90"/>
<path d="M492.5 193.9C492.6 193.5 492.7 193.1 492.7 192.8C492.8 192.4 492.9 192.0 493.0 191.6C493.0 191.3 493.1 190.9 493.2 190.5C493.3 190.1 493.3 189.7 493.4 189.4C493.5 189.0 493.6 188.6 493.6 188.2C493.7 187.9 493.8 187.5 493.9 187.1C493.9 186.7 494.0 186.3 494.1 186.0C494.2 185.6 494.2 185.2 494.3 184.8C494.4 184.5 494.5 184.1 494.5 183.7" stroke="#f9fb15" stroke-width="0.90"/>
</g>
<path d="M417.0 112.6l3.8 3.8m0 -3.8l-3.8 3.8" stroke="#dc1f26" stroke-width="1.25" fill="none"/>
<path d="M424.1 108.0l2.9 3.9l-2.9 3.9l-2.9 -3.9z" stroke="#dc1f26" stroke-width="1.25" fill="none"/>
<rect x="308.1" y="26.4" width="99.3" height="32.7" fill="#fff" stroke="#9a9a9a" stroke-width="0.7"/>
<ellipse cx="319.9" cy="32.4" rx="10.1" ry="3.55" fill="none" stroke="#3423a0" stroke-width="1.5"/>
<ellipse cx="319.9" cy="32.4" rx="6.9" ry="2.1" fill="#8fd47a" stroke="#1fb3c4" stroke-width="1.3"/>
<ellipse cx="319.9" cy="32.4" rx="3.7" ry="0.9" fill="#f4ec2a" stroke="#f4ec2a" stroke-width="0.9"/>
<path d="M317.8 41.5l4.2 4.2m0 -4.2l-4.2 4.2" stroke="#dc1f26" stroke-width="1.25" fill="none"/>
<path d="M320 50.2l3.0 3.8l-3.0 3.8l-3.0 -3.8z" stroke="#dc1f26" stroke-width="1.25" fill="none"/>
<g fill="#2e2e2e">
<text transform="translate(332.00 35.80) scale(0.9173 1)" font-size="8.7" stroke="#2e2e2e" stroke-width="0.22">Surrogate model</text>
<text transform="translate(332.00 46.30) scale(0.9213 1)" font-size="8.7" stroke="#2e2e2e" stroke-width="0.22">Optimum of the SVR</text>
<text transform="translate(332.00 56.80) scale(0.9122 1)" font-size="8.7" stroke="#2e2e2e" stroke-width="0.22">Optimum Design</text>
</g>
<g font-size="7.4" fill="#2e2e2e" text-anchor="middle">
<text transform="translate(302.80 200.40) scale(0.8500 1)" font-size="7.6" text-anchor="middle" stroke="#2e2e2e" stroke-width="0.22">70</text>
<text transform="translate(334.62 200.40) scale(0.8500 1)" font-size="7.6" text-anchor="middle" stroke="#2e2e2e" stroke-width="0.22">80</text>
<text transform="translate(366.43 200.40) scale(0.8500 1)" font-size="7.6" text-anchor="middle" stroke="#2e2e2e" stroke-width="0.22">90</text>
<text transform="translate(398.25 200.40) scale(0.8500 1)" font-size="7.6" text-anchor="middle" stroke="#2e2e2e" stroke-width="0.22">100</text>
<text transform="translate(430.07 200.40) scale(0.8500 1)" font-size="7.6" text-anchor="middle" stroke="#2e2e2e" stroke-width="0.22">110</text>
<text transform="translate(461.88 200.40) scale(0.8500 1)" font-size="7.6" text-anchor="middle" stroke="#2e2e2e" stroke-width="0.22">120</text>
<text transform="translate(493.70 200.40) scale(0.8500 1)" font-size="7.6" text-anchor="middle" stroke="#2e2e2e" stroke-width="0.22">130</text>
</g>
<g font-size="7.4" fill="#2e2e2e" text-anchor="end">
<text transform="translate(300.00 192.70) scale(0.8500 1)" font-size="7.6" text-anchor="end" stroke="#2e2e2e" stroke-width="0.22">10</text>
<text transform="translate(300.00 175.80) scale(0.8500 1)" font-size="7.6" text-anchor="end" stroke="#2e2e2e" stroke-width="0.22">15</text>
<text transform="translate(300.00 158.90) scale(0.8500 1)" font-size="7.6" text-anchor="end" stroke="#2e2e2e" stroke-width="0.22">20</text>
<text transform="translate(300.00 142.00) scale(0.8500 1)" font-size="7.6" text-anchor="end" stroke="#2e2e2e" stroke-width="0.22">25</text>
<text transform="translate(300.00 125.10) scale(0.8500 1)" font-size="7.6" text-anchor="end" stroke="#2e2e2e" stroke-width="0.22">30</text>
<text transform="translate(300.00 108.20) scale(0.8500 1)" font-size="7.6" text-anchor="end" stroke="#2e2e2e" stroke-width="0.22">35</text>
<text transform="translate(300.00 91.30) scale(0.8500 1)" font-size="7.6" text-anchor="end" stroke="#2e2e2e" stroke-width="0.22">40</text>
<text transform="translate(300.00 74.40) scale(0.8500 1)" font-size="7.6" text-anchor="end" stroke="#2e2e2e" stroke-width="0.22">45</text>
<text transform="translate(300.00 57.50) scale(0.8500 1)" font-size="7.6" text-anchor="end" stroke="#2e2e2e" stroke-width="0.22">50</text>
<text transform="translate(300.00 40.60) scale(0.8500 1)" font-size="7.6" text-anchor="end" stroke="#2e2e2e" stroke-width="0.22">55</text>
<text transform="translate(300.00 23.70) scale(0.8500 1)" font-size="7.6" text-anchor="end" stroke="#2e2e2e" stroke-width="0.22">60</text>
</g>
<text transform="translate(357.90 210.20) scale(0.9009 1)" font-size="9.0" fill="#2e2e2e" stroke="#2e2e2e" stroke-width="0.22">Outer Diamer, d<tspan font-size="7.0" dy="2.9">1</tspan><tspan dy="-2.9"> [mm]</tspan></text>
<text transform="translate(285.60 147.50) rotate(-90) scale(0.8938 1)" font-size="9.0" fill="#2e2e2e" stroke="#2e2e2e" stroke-width="0.22">Hole Diameter, d<tspan font-size="7.0" dy="2.9">2</tspan><tspan dy="-2.9"> [mm]</tspan></text>
<defs><linearGradient id="cb" x1="0" y1="1" x2="0" y2="0">
<stop offset="0.0000" stop-color="#3e26a8"/>
<stop offset="0.0714" stop-color="#4537d5"/>
<stop offset="0.1429" stop-color="#4852f4"/>
<stop offset="0.2143" stop-color="#3e6fff"/>
<stop offset="0.2857" stop-color="#2e87f7"/>
<stop offset="0.3571" stop-color="#209de7"/>
<stop offset="0.4286" stop-color="#12b1d6"/>
<stop offset="0.5000" stop-color="#17bfb9"/>
<stop offset="0.5714" stop-color="#37c897"/>
<stop offset="0.6429" stop-color="#71cc63"/>
<stop offset="0.7143" stop-color="#abc739"/>
<stop offset="0.7857" stop-color="#debe2b"/>
<stop offset="0.8571" stop-color="#fec338"/>
<stop offset="0.9286" stop-color="#f7df26"/>
<stop offset="1.0000" stop-color="#f9fb15"/>
</linearGradient></defs>
<rect x="504.2" y="20.9" width="10.7" height="169.0" fill="url(#cb)" stroke="#a4a4a4" stroke-width="0.6"/>
<g font-size="7.4" fill="#2e2e2e">
<text transform="translate(517.80 176.00) scale(0.9700 1)" font-size="7.9" stroke="#2e2e2e" stroke-width="0.22">0.5</text>
<text transform="translate(517.80 155.41) scale(0.9700 1)" font-size="7.9" stroke="#2e2e2e" stroke-width="0.22">1</text>
<text transform="translate(517.80 134.83) scale(0.9700 1)" font-size="7.9" stroke="#2e2e2e" stroke-width="0.22">1.5</text>
<text transform="translate(517.80 114.24) scale(0.9700 1)" font-size="7.9" stroke="#2e2e2e" stroke-width="0.22">2</text>
<text transform="translate(517.80 93.66) scale(0.9700 1)" font-size="7.9" stroke="#2e2e2e" stroke-width="0.22">2.5</text>
<text transform="translate(517.80 73.07) scale(0.9700 1)" font-size="7.9" stroke="#2e2e2e" stroke-width="0.22">3</text>
<text transform="translate(517.80 52.48) scale(0.9700 1)" font-size="7.9" stroke="#2e2e2e" stroke-width="0.22">3.5</text>
<text transform="translate(517.80 31.90) scale(0.9700 1)" font-size="7.9" stroke="#2e2e2e" stroke-width="0.22">4</text>
</g>
<path d="M514.9 173.19h-1.6M514.9 152.61h-1.6M514.9 132.03h-1.6M514.9 111.44h-1.6M514.9 90.86h-1.6M514.9 70.27h-1.6M514.9 49.69h-1.6M514.9 29.10h-1.6" stroke="#555" stroke-width="0.6" fill="none"/>
<text transform="translate(515.40 16.80) scale(0.9800 1)" font-size="7.9" fill="#2e2e2e" stroke="#2e2e2e" stroke-width="0.22"><tspan font-size="9.6" dy="1.4" stroke="none" fill="#4a4a4a">×</tspan><tspan dy="-1.4">10</tspan><tspan font-size="6.4" dy="-3.0" dx="0.4">4</tspan></text>
<text transform="translate(542.00 128.80) rotate(-90) scale(0.8923 1)" font-size="9.0" fill="#2e2e2e" stroke="#2e2e2e" stroke-width="0.22">E(d)<tspan font-size="7.0" dy="3.0">SVR</tspan><tspan dy="-3.0"> [kN</tspan><tspan font-size="7.0" dy="-4.0">2</tspan><tspan dy="4.0">]</tspan></text>
<text transform="translate(411.2 234.6) scale(0.87 1)" font-family="'Liberation Serif', 'Times New Roman', serif" font-weight="bold" font-size="13" text-anchor="middle" fill="#111">(b)</text>
</g>
</svg>
</body></html>
